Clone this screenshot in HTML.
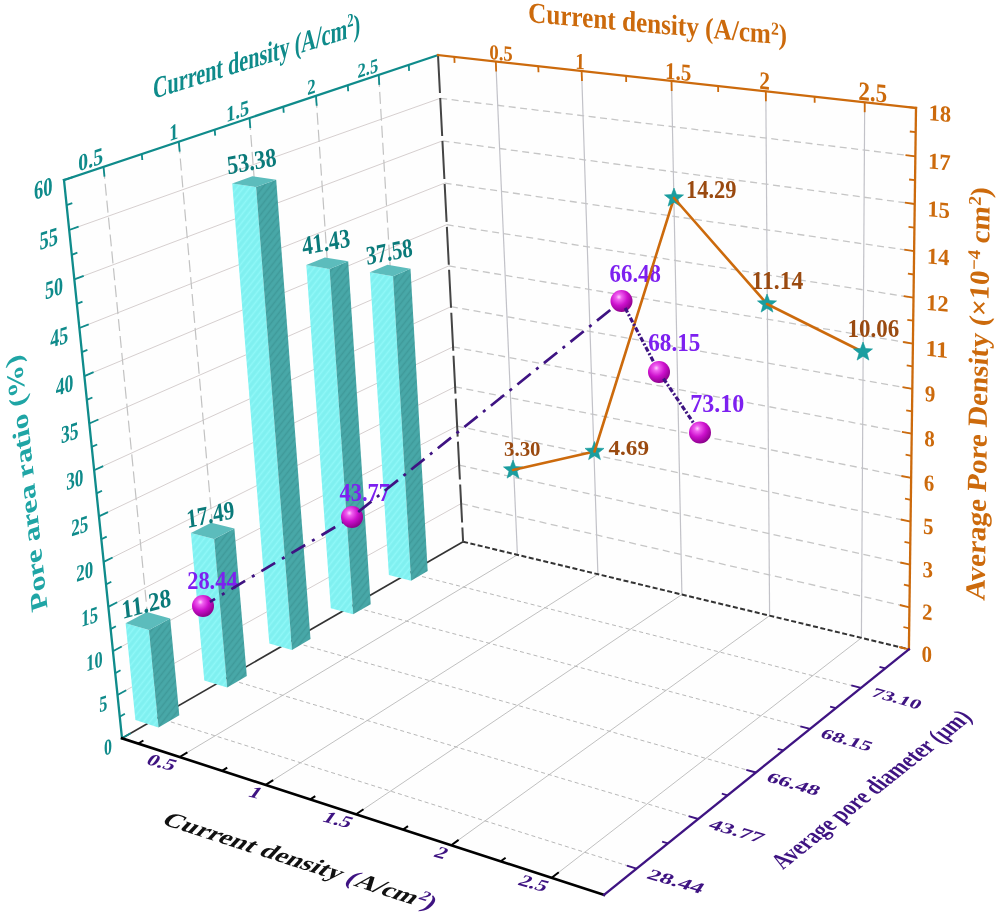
<!DOCTYPE html>
<html><head><meta charset="utf-8"><title>chart</title>
<style>html,body{margin:0;padding:0;background:#fff}svg{display:block}text{font-family:"Liberation Serif","DejaVu Serif",serif}</style>
</head><body>
<svg width="1000" height="917" viewBox="0 0 1000 917">
<rect width="1000" height="917" fill="#ffffff"/>
<polygon points="64.0,180.0 438.0,55.1 463.1,541.7 122.0,738.3" fill="#fefefe" stroke="none" stroke-width="0"/>
<polygon points="438.0,55.1 916.0,107.9 908.9,649.3 463.1,541.7" fill="#fefefe" stroke="none" stroke-width="0"/>
<polygon points="122.0,738.3 463.1,541.7 908.9,649.3 604.0,894.8" fill="#fefefe" stroke="none" stroke-width="0"/>
<line x1="117.5" y1="695.0" x2="461.1" y2="503.6" stroke="#d6cfcf" stroke-width="1" />
<line x1="112.9" y1="651.2" x2="459.1" y2="465.1" stroke="#d6cfcf" stroke-width="1" />
<line x1="108.3" y1="606.9" x2="457.1" y2="426.1" stroke="#d6cfcf" stroke-width="1" />
<line x1="103.7" y1="561.9" x2="455.1" y2="386.8" stroke="#d6cfcf" stroke-width="1" />
<line x1="98.9" y1="516.4" x2="453.0" y2="346.9" stroke="#d6cfcf" stroke-width="1" />
<line x1="94.1" y1="470.2" x2="450.9" y2="306.7" stroke="#d6cfcf" stroke-width="1" />
<line x1="89.3" y1="423.5" x2="448.8" y2="265.9" stroke="#d6cfcf" stroke-width="1" />
<line x1="84.4" y1="376.1" x2="446.7" y2="224.7" stroke="#d6cfcf" stroke-width="1" />
<line x1="79.4" y1="328.0" x2="444.6" y2="183.1" stroke="#d6cfcf" stroke-width="1" />
<line x1="74.3" y1="279.4" x2="442.4" y2="140.9" stroke="#d6cfcf" stroke-width="1" />
<line x1="69.2" y1="230.0" x2="440.2" y2="98.3" stroke="#d6cfcf" stroke-width="1" />
<line x1="103.5" y1="166.8" x2="157.6" y2="717.7" stroke="#c2c2c2" stroke-width="1.2" stroke-dasharray="12 5" />
<line x1="178.8" y1="141.6" x2="225.8" y2="678.4" stroke="#c2c2c2" stroke-width="1.2" stroke-dasharray="12 5" />
<line x1="249.5" y1="118.0" x2="290.1" y2="641.3" stroke="#c2c2c2" stroke-width="1.2" stroke-dasharray="12 5" />
<line x1="316.0" y1="95.8" x2="350.9" y2="606.3" stroke="#c2c2c2" stroke-width="1.2" stroke-dasharray="12 5" />
<line x1="378.7" y1="74.9" x2="408.5" y2="573.1" stroke="#c2c2c2" stroke-width="1.2" stroke-dasharray="12 5" />
<line x1="461.1" y1="503.6" x2="909.5" y2="607.3" stroke="#c6c6c6" stroke-width="1.3" stroke-dasharray="7 4.5" />
<line x1="459.1" y1="465.1" x2="910.1" y2="564.7" stroke="#c6c6c6" stroke-width="1.3" stroke-dasharray="7 4.5" />
<line x1="457.1" y1="426.1" x2="910.6" y2="521.6" stroke="#c6c6c6" stroke-width="1.3" stroke-dasharray="7 4.5" />
<line x1="455.1" y1="386.8" x2="911.2" y2="477.9" stroke="#c6c6c6" stroke-width="1.3" stroke-dasharray="7 4.5" />
<line x1="453.0" y1="346.9" x2="911.8" y2="433.7" stroke="#c6c6c6" stroke-width="1.3" stroke-dasharray="7 4.5" />
<line x1="450.9" y1="306.7" x2="912.4" y2="388.9" stroke="#c6c6c6" stroke-width="1.3" stroke-dasharray="7 4.5" />
<line x1="448.8" y1="265.9" x2="912.9" y2="343.6" stroke="#c6c6c6" stroke-width="1.3" stroke-dasharray="7 4.5" />
<line x1="446.7" y1="224.7" x2="913.5" y2="297.7" stroke="#c6c6c6" stroke-width="1.3" stroke-dasharray="7 4.5" />
<line x1="444.6" y1="183.1" x2="914.2" y2="251.2" stroke="#c6c6c6" stroke-width="1.3" stroke-dasharray="7 4.5" />
<line x1="442.4" y1="140.9" x2="914.8" y2="204.0" stroke="#c6c6c6" stroke-width="1.3" stroke-dasharray="7 4.5" />
<line x1="440.2" y1="98.3" x2="915.4" y2="156.3" stroke="#c6c6c6" stroke-width="1.3" stroke-dasharray="7 4.5" />
<line x1="495.8" y1="61.5" x2="517.4" y2="554.8" stroke="#c2c2c8" stroke-width="1.2" />
<line x1="581.6" y1="71.0" x2="597.9" y2="574.2" stroke="#c2c2c8" stroke-width="1.2" />
<line x1="671.5" y1="80.9" x2="681.9" y2="594.5" stroke="#c2c2c8" stroke-width="1.2" />
<line x1="765.8" y1="91.3" x2="769.6" y2="615.7" stroke="#c2c2c8" stroke-width="1.2" />
<line x1="864.7" y1="102.2" x2="861.4" y2="637.9" stroke="#c2c2c8" stroke-width="1.2" />
<line x1="179.7" y1="757.0" x2="517.4" y2="554.8" stroke="#c0c0c0" stroke-width="1" />
<line x1="265.6" y1="784.9" x2="597.9" y2="574.2" stroke="#c0c0c0" stroke-width="1" />
<line x1="356.1" y1="814.3" x2="681.9" y2="594.5" stroke="#c0c0c0" stroke-width="1" />
<line x1="451.3" y1="845.2" x2="769.6" y2="615.7" stroke="#c0c0c0" stroke-width="1" />
<line x1="551.7" y1="877.8" x2="861.4" y2="637.9" stroke="#c0c0c0" stroke-width="1" />
<line x1="157.6" y1="717.7" x2="636.5" y2="868.6" stroke="#b8b8b8" stroke-width="1" stroke-dasharray="4 3" />
<line x1="225.8" y1="678.4" x2="698.2" y2="819.0" stroke="#b8b8b8" stroke-width="1" stroke-dasharray="4 3" />
<line x1="290.1" y1="641.3" x2="755.9" y2="772.5" stroke="#b8b8b8" stroke-width="1" stroke-dasharray="4 3" />
<line x1="350.9" y1="606.3" x2="810.1" y2="728.9" stroke="#b8b8b8" stroke-width="1" stroke-dasharray="4 3" />
<line x1="408.5" y1="573.1" x2="861.0" y2="687.9" stroke="#b8b8b8" stroke-width="1" stroke-dasharray="4 3" />
<line x1="122.0" y1="738.3" x2="463.1" y2="541.7" stroke="#333" stroke-width="1.6" />
<line x1="463.1" y1="541.7" x2="908.9" y2="649.3" stroke="#333" stroke-width="2" stroke-dasharray="5 2.5" />
<line x1="438.0" y1="55.1" x2="463.1" y2="541.7" stroke="#444" stroke-width="2" stroke-dasharray="38 5" />
<line x1="64.0" y1="180.0" x2="122.0" y2="738.3" stroke="#0f8b8b" stroke-width="2.3" stroke-linecap="square"/>
<line x1="64.0" y1="180.0" x2="438.0" y2="55.1" stroke="#0f8b8b" stroke-width="2.3" stroke-linecap="square"/>
<line x1="122.0" y1="738.3" x2="130.6" y2="733.3" stroke="#0f8b8b" stroke-width="1.8" />
<line x1="119.7" y1="716.7" x2="124.9" y2="713.8" stroke="#0f8b8b" stroke-width="1.8" />
<line x1="117.5" y1="695.0" x2="126.2" y2="690.2" stroke="#0f8b8b" stroke-width="1.8" />
<line x1="115.2" y1="673.2" x2="120.5" y2="670.3" stroke="#0f8b8b" stroke-width="1.8" />
<line x1="112.9" y1="651.2" x2="121.7" y2="646.5" stroke="#0f8b8b" stroke-width="1.8" />
<line x1="110.6" y1="629.1" x2="115.9" y2="626.3" stroke="#0f8b8b" stroke-width="1.8" />
<line x1="108.3" y1="606.9" x2="117.2" y2="602.3" stroke="#0f8b8b" stroke-width="1.8" />
<line x1="106.0" y1="584.5" x2="111.3" y2="581.7" stroke="#0f8b8b" stroke-width="1.8" />
<line x1="103.7" y1="561.9" x2="112.6" y2="557.5" stroke="#0f8b8b" stroke-width="1.8" />
<line x1="101.3" y1="539.2" x2="106.7" y2="536.6" stroke="#0f8b8b" stroke-width="1.8" />
<line x1="98.9" y1="516.4" x2="108.0" y2="512.1" stroke="#0f8b8b" stroke-width="1.8" />
<line x1="96.5" y1="493.4" x2="102.0" y2="490.8" stroke="#0f8b8b" stroke-width="1.8" />
<line x1="94.1" y1="470.2" x2="103.2" y2="466.1" stroke="#0f8b8b" stroke-width="1.8" />
<line x1="91.7" y1="446.9" x2="97.2" y2="444.5" stroke="#0f8b8b" stroke-width="1.8" />
<line x1="89.3" y1="423.5" x2="98.4" y2="419.5" stroke="#0f8b8b" stroke-width="1.8" />
<line x1="86.8" y1="399.9" x2="92.4" y2="397.5" stroke="#0f8b8b" stroke-width="1.8" />
<line x1="84.4" y1="376.1" x2="93.6" y2="372.2" stroke="#0f8b8b" stroke-width="1.8" />
<line x1="81.9" y1="352.1" x2="87.4" y2="349.9" stroke="#0f8b8b" stroke-width="1.8" />
<line x1="79.4" y1="328.0" x2="88.7" y2="324.4" stroke="#0f8b8b" stroke-width="1.8" />
<line x1="76.9" y1="303.8" x2="82.5" y2="301.6" stroke="#0f8b8b" stroke-width="1.8" />
<line x1="74.3" y1="279.4" x2="83.7" y2="275.8" stroke="#0f8b8b" stroke-width="1.8" />
<line x1="71.8" y1="254.8" x2="77.4" y2="252.7" stroke="#0f8b8b" stroke-width="1.8" />
<line x1="69.2" y1="230.0" x2="78.6" y2="226.7" stroke="#0f8b8b" stroke-width="1.8" />
<line x1="66.6" y1="205.1" x2="72.3" y2="203.1" stroke="#0f8b8b" stroke-width="1.8" />
<line x1="64.0" y1="180.0" x2="73.5" y2="176.8" stroke="#0f8b8b" stroke-width="1.8" />
<line x1="103.5" y1="166.8" x2="104.5" y2="176.7" stroke="#0f8b8b" stroke-width="1.8" />
<line x1="141.8" y1="154.0" x2="142.3" y2="160.0" stroke="#0f8b8b" stroke-width="1.8" />
<line x1="178.8" y1="141.6" x2="179.7" y2="151.6" stroke="#0f8b8b" stroke-width="1.8" />
<line x1="214.7" y1="129.7" x2="215.2" y2="135.6" stroke="#0f8b8b" stroke-width="1.8" />
<line x1="249.5" y1="118.0" x2="250.3" y2="128.0" stroke="#0f8b8b" stroke-width="1.8" />
<line x1="283.3" y1="106.8" x2="283.7" y2="112.8" stroke="#0f8b8b" stroke-width="1.8" />
<line x1="316.0" y1="95.8" x2="316.7" y2="105.8" stroke="#0f8b8b" stroke-width="1.8" />
<line x1="347.8" y1="85.2" x2="348.2" y2="91.2" stroke="#0f8b8b" stroke-width="1.8" />
<line x1="378.7" y1="74.9" x2="379.3" y2="84.9" stroke="#0f8b8b" stroke-width="1.8" />
<line x1="408.8" y1="64.9" x2="409.1" y2="70.9" stroke="#0f8b8b" stroke-width="1.8" />
<line x1="438.0" y1="55.1" x2="916.0" y2="107.9" stroke="#cc6a0c" stroke-width="2.3" stroke-linecap="square"/>
<line x1="916.0" y1="107.9" x2="908.9" y2="649.3" stroke="#cc6a0c" stroke-width="2.3" stroke-linecap="square"/>
<line x1="454.3" y1="56.9" x2="454.6" y2="62.9" stroke="#cc6a0c" stroke-width="1.8" />
<line x1="495.8" y1="61.5" x2="496.2" y2="71.5" stroke="#cc6a0c" stroke-width="1.8" />
<line x1="538.2" y1="66.2" x2="538.5" y2="72.2" stroke="#cc6a0c" stroke-width="1.8" />
<line x1="581.6" y1="71.0" x2="582.0" y2="81.0" stroke="#cc6a0c" stroke-width="1.8" />
<line x1="626.1" y1="75.9" x2="626.2" y2="81.9" stroke="#cc6a0c" stroke-width="1.8" />
<line x1="671.5" y1="80.9" x2="671.7" y2="90.9" stroke="#cc6a0c" stroke-width="1.8" />
<line x1="718.1" y1="86.0" x2="718.2" y2="92.0" stroke="#cc6a0c" stroke-width="1.8" />
<line x1="765.8" y1="91.3" x2="765.9" y2="101.3" stroke="#cc6a0c" stroke-width="1.8" />
<line x1="814.6" y1="96.7" x2="814.7" y2="102.7" stroke="#cc6a0c" stroke-width="1.8" />
<line x1="864.7" y1="102.2" x2="864.7" y2="112.2" stroke="#cc6a0c" stroke-width="1.8" />
<line x1="908.9" y1="649.3" x2="899.2" y2="647.0" stroke="#cc6a0c" stroke-width="1.8" />
<line x1="909.2" y1="628.4" x2="903.4" y2="627.0" stroke="#cc6a0c" stroke-width="1.8" />
<line x1="909.5" y1="607.3" x2="899.8" y2="605.0" stroke="#cc6a0c" stroke-width="1.8" />
<line x1="909.8" y1="586.0" x2="903.9" y2="584.7" stroke="#cc6a0c" stroke-width="1.8" />
<line x1="910.1" y1="564.7" x2="900.3" y2="562.5" stroke="#cc6a0c" stroke-width="1.8" />
<line x1="910.3" y1="543.2" x2="904.5" y2="541.9" stroke="#cc6a0c" stroke-width="1.8" />
<line x1="910.6" y1="521.6" x2="900.8" y2="519.5" stroke="#cc6a0c" stroke-width="1.8" />
<line x1="910.9" y1="499.8" x2="905.0" y2="498.6" stroke="#cc6a0c" stroke-width="1.8" />
<line x1="911.2" y1="477.9" x2="901.4" y2="476.0" stroke="#cc6a0c" stroke-width="1.8" />
<line x1="911.5" y1="455.9" x2="905.6" y2="454.7" stroke="#cc6a0c" stroke-width="1.8" />
<line x1="911.8" y1="433.7" x2="901.9" y2="431.9" stroke="#cc6a0c" stroke-width="1.8" />
<line x1="912.1" y1="411.4" x2="906.2" y2="410.3" stroke="#cc6a0c" stroke-width="1.8" />
<line x1="912.4" y1="388.9" x2="902.5" y2="387.2" stroke="#cc6a0c" stroke-width="1.8" />
<line x1="912.6" y1="366.3" x2="906.7" y2="365.3" stroke="#cc6a0c" stroke-width="1.8" />
<line x1="912.9" y1="343.6" x2="903.1" y2="342.0" stroke="#cc6a0c" stroke-width="1.8" />
<line x1="913.2" y1="320.7" x2="907.3" y2="319.8" stroke="#cc6a0c" stroke-width="1.8" />
<line x1="913.5" y1="297.7" x2="903.7" y2="296.1" stroke="#cc6a0c" stroke-width="1.8" />
<line x1="913.9" y1="274.5" x2="907.9" y2="273.6" stroke="#cc6a0c" stroke-width="1.8" />
<line x1="914.2" y1="251.2" x2="904.3" y2="249.7" stroke="#cc6a0c" stroke-width="1.8" />
<line x1="914.5" y1="227.7" x2="908.5" y2="226.8" stroke="#cc6a0c" stroke-width="1.8" />
<line x1="914.8" y1="204.0" x2="904.9" y2="202.7" stroke="#cc6a0c" stroke-width="1.8" />
<line x1="915.1" y1="180.2" x2="909.1" y2="179.5" stroke="#cc6a0c" stroke-width="1.8" />
<line x1="915.4" y1="156.3" x2="905.5" y2="155.1" stroke="#cc6a0c" stroke-width="1.8" />
<line x1="915.7" y1="132.2" x2="909.8" y2="131.5" stroke="#cc6a0c" stroke-width="1.8" />
<line x1="916.0" y1="107.9" x2="906.1" y2="106.8" stroke="#cc6a0c" stroke-width="1.8" />
<line x1="122.0" y1="738.3" x2="604.0" y2="894.8" stroke="#000" stroke-width="2.6" stroke-linecap="square"/>
<line x1="138.3" y1="743.5" x2="143.4" y2="740.5" stroke="#000" stroke-width="2" />
<line x1="179.7" y1="757.0" x2="187.4" y2="752.4" stroke="#000" stroke-width="2" />
<line x1="222.1" y1="770.8" x2="227.2" y2="767.6" stroke="#000" stroke-width="2" />
<line x1="265.6" y1="784.9" x2="273.2" y2="780.1" stroke="#000" stroke-width="2" />
<line x1="310.3" y1="799.4" x2="315.3" y2="796.1" stroke="#000" stroke-width="2" />
<line x1="356.1" y1="814.3" x2="363.5" y2="809.2" stroke="#000" stroke-width="2" />
<line x1="403.1" y1="829.5" x2="408.0" y2="826.1" stroke="#000" stroke-width="2" />
<line x1="451.3" y1="845.2" x2="458.6" y2="839.9" stroke="#000" stroke-width="2" />
<line x1="500.8" y1="861.3" x2="505.6" y2="857.7" stroke="#000" stroke-width="2" />
<line x1="551.7" y1="877.8" x2="558.8" y2="872.3" stroke="#000" stroke-width="2" />
<line x1="604.0" y1="894.8" x2="908.9" y2="649.3" stroke="#3e1382" stroke-width="2.3" stroke-linecap="square"/>
<line x1="636.5" y1="868.6" x2="626.9" y2="865.6" stroke="#3e1382" stroke-width="1.9" />
<line x1="667.9" y1="843.4" x2="662.1" y2="841.6" stroke="#3e1382" stroke-width="1.9" />
<line x1="698.2" y1="819.0" x2="688.6" y2="816.1" stroke="#3e1382" stroke-width="1.9" />
<line x1="727.5" y1="795.3" x2="721.8" y2="793.7" stroke="#3e1382" stroke-width="1.9" />
<line x1="755.9" y1="772.5" x2="746.3" y2="769.8" stroke="#3e1382" stroke-width="1.9" />
<line x1="783.4" y1="750.3" x2="777.7" y2="748.8" stroke="#3e1382" stroke-width="1.9" />
<line x1="810.1" y1="728.9" x2="800.4" y2="726.3" stroke="#3e1382" stroke-width="1.9" />
<line x1="835.9" y1="708.1" x2="830.1" y2="706.6" stroke="#3e1382" stroke-width="1.9" />
<line x1="861.0" y1="687.9" x2="851.3" y2="685.4" stroke="#3e1382" stroke-width="1.9" />
<line x1="885.3" y1="668.3" x2="879.5" y2="666.9" stroke="#3e1382" stroke-width="1.9" />
<defs><pattern id="hatch" width="5" height="5" patternUnits="userSpaceOnUse" patternTransform="rotate(-52)"><rect width="5" height="5" fill="#48a8a8"/><line x1="0" y1="2.5" x2="5" y2="2.5" stroke="#3f9a9a" stroke-width="1.6"/></pattern><pattern id="hatchL" width="5" height="5" patternUnits="userSpaceOnUse" patternTransform="rotate(-52)"><rect width="5" height="5" fill="#7ff0f0"/><line x1="0" y1="2.5" x2="5" y2="2.5" stroke="#8ff8f8" stroke-width="1.6"/></pattern><radialGradient id="sph" cx="0.38" cy="0.32" r="0.7"><stop offset="0" stop-color="#ffd0ff"/><stop offset="0.18" stop-color="#f060f0"/><stop offset="0.55" stop-color="#cc10cc"/><stop offset="1" stop-color="#8a008a"/></radialGradient></defs>
<polygon points="369.9,272.3 393.0,276.3 411.1,580.7 388.9,575.1" fill="url(#hatchL)" stroke="none" stroke-width="0"/>
<polygon points="393.0,276.3 410.5,268.7 427.7,571.1 411.1,580.7" fill="url(#hatch)" stroke="none" stroke-width="0"/>
<polygon points="369.9,272.3 387.5,264.8 410.5,268.7 393.0,276.3" fill="#5cbcbc" stroke="none" stroke-width="0"/>
<polygon points="306.3,265.0 329.6,269.1 353.2,614.3 330.8,608.3" fill="url(#hatchL)" stroke="none" stroke-width="0"/>
<polygon points="329.6,269.1 348.2,261.3 370.7,604.2 353.2,614.3" fill="url(#hatch)" stroke="none" stroke-width="0"/>
<polygon points="306.3,265.0 324.9,257.4 348.2,261.3 329.6,269.1" fill="#5cbcbc" stroke="none" stroke-width="0"/>
<polygon points="232.2,183.5 256.1,187.1 292.0,649.9 269.3,643.4" fill="url(#hatchL)" stroke="none" stroke-width="0"/>
<polygon points="256.1,187.1 276.2,179.8 310.5,639.1 292.0,649.9" fill="url(#hatch)" stroke="none" stroke-width="0"/>
<polygon points="232.2,183.5 252.4,176.2 276.2,179.8 256.1,187.1" fill="#5cbcbc" stroke="none" stroke-width="0"/>
<polygon points="190.9,533.0 214.2,539.0 227.2,687.5 204.3,680.6" fill="url(#hatchL)" stroke="none" stroke-width="0"/>
<polygon points="214.2,539.0 234.4,528.6 246.8,676.1 227.2,687.5" fill="url(#hatch)" stroke="none" stroke-width="0"/>
<polygon points="190.9,533.0 211.2,522.8 234.4,528.6 214.2,539.0" fill="#5cbcbc" stroke="none" stroke-width="0"/>
<polygon points="125.6,623.2 149.0,630.0 158.5,727.4 135.4,720.0" fill="url(#hatchL)" stroke="none" stroke-width="0"/>
<polygon points="149.0,630.0 170.2,618.6 179.3,715.3 158.5,727.4" fill="url(#hatch)" stroke="none" stroke-width="0"/>
<polygon points="125.6,623.2 146.9,612.0 170.2,618.6 149.0,630.0" fill="#5cbcbc" stroke="none" stroke-width="0"/>
<text transform="matrix(1.0000 0.0000 -0.0000 1.0000 187.20 588.80)" font-size="25" fill="#7d20f0" font-weight="bold" textLength="50.4" lengthAdjust="spacingAndGlyphs" >28.44</text>
<text transform="matrix(1.0000 0.0000 -0.0000 1.0000 339.50 501.00)" font-size="25" fill="#7d20f0" font-weight="bold" textLength="50.5" lengthAdjust="spacingAndGlyphs" >43.77</text>
<text transform="matrix(1.0000 0.0000 -0.0000 1.0000 609.60 282.40)" font-size="26" fill="#7d20f0" font-weight="bold" textLength="51.3" lengthAdjust="spacingAndGlyphs" >66.48</text>
<text transform="matrix(1.0000 0.0000 -0.0000 1.0000 648.30 350.70)" font-size="26" fill="#7d20f0" font-weight="bold" textLength="52.0" lengthAdjust="spacingAndGlyphs" >68.15</text>
<text transform="matrix(1.0000 0.0000 -0.0000 1.0000 690.30 412.00)" font-size="26" fill="#7d20f0" font-weight="bold" textLength="54.0" lengthAdjust="spacingAndGlyphs" >73.10</text>
<polygon points="513.0,460.0 515.5,466.6 522.5,466.9 517.0,471.3 518.9,478.1 513.0,474.2 507.1,478.1 509.0,471.3 503.5,466.9 510.5,466.6" fill="#1a9ea0" stroke="#14989a" stroke-width="0.6"/>
<line x1="513.0" y1="470.0" x2="594.5" y2="451.5" stroke="#cc6a0c" stroke-width="2.6" stroke-linecap="round"/>
<polygon points="594.5,441.5 597.0,448.1 604.0,448.4 598.5,452.8 600.4,459.6 594.5,455.7 588.6,459.6 590.5,452.8 585.0,448.4 592.0,448.1" fill="#1a9ea0" stroke="#14989a" stroke-width="0.6"/>
<line x1="594.5" y1="451.5" x2="674.0" y2="198.0" stroke="#cc6a0c" stroke-width="2.6" stroke-linecap="round"/>
<polygon points="674.0,188.0 676.5,194.6 683.5,194.9 678.0,199.3 679.9,206.1 674.0,202.2 668.1,206.1 670.0,199.3 664.5,194.9 671.5,194.6" fill="#1a9ea0" stroke="#14989a" stroke-width="0.6"/>
<line x1="674.0" y1="198.0" x2="767.0" y2="304.0" stroke="#cc6a0c" stroke-width="2.6" stroke-linecap="round"/>
<polygon points="767.0,294.0 769.5,300.6 776.5,300.9 771.0,305.3 772.9,312.1 767.0,308.2 761.1,312.1 763.0,305.3 757.5,300.9 764.5,300.6" fill="#1a9ea0" stroke="#14989a" stroke-width="0.6"/>
<line x1="767.0" y1="304.0" x2="863.0" y2="352.0" stroke="#cc6a0c" stroke-width="2.6" stroke-linecap="round"/>
<polygon points="863.0,342.0 865.5,348.6 872.5,348.9 867.0,353.3 868.9,360.1 863.0,356.2 857.1,360.1 859.0,353.3 853.5,348.9 860.5,348.6" fill="#1a9ea0" stroke="#14989a" stroke-width="0.6"/>
<circle cx="203.0" cy="606.0" r="11" fill="url(#sph)"/>
<line x1="209.9" y1="601.9" x2="352.0" y2="517.0" stroke="#3e1382" stroke-width="2.7" stroke-dasharray="16 8 3 8" stroke-dashoffset="10"/>
<circle cx="352.0" cy="517.0" r="11" fill="url(#sph)"/>
<line x1="358.2" y1="512.0" x2="621.5" y2="301.0" stroke="#3e1382" stroke-width="2.7" stroke-dasharray="17 7 3 7" />
<circle cx="621.5" cy="301.0" r="11" fill="url(#sph)"/>
<line x1="625.2" y1="308.1" x2="659.0" y2="372.0" stroke="#3e1382" stroke-width="3.2" stroke-dasharray="5 2 2 2" />
<circle cx="659.0" cy="372.0" r="11" fill="url(#sph)"/>
<line x1="663.5" y1="378.6" x2="700.0" y2="432.5" stroke="#3e1382" stroke-width="3.2" stroke-dasharray="5 2 2 2" />
<circle cx="700.0" cy="432.5" r="11" fill="url(#sph)"/>
<text transform="matrix(0.9548 -0.2974 0.0000 1.0000 153.00 99.00)" font-size="30.5" fill="#0f8b8b" font-weight="bold" textLength="217.0" lengthAdjust="spacingAndGlyphs" >Current density (A/cm<tspan dy="-11" font-size="19">2</tspan><tspan dy="11">)</tspan></text>
<text transform="matrix(0.9483 -0.3173 0.0000 1.0000 78.35 171.52)" font-size="24.0" fill="#0f8b8b" font-weight="bold" textLength="26.0" lengthAdjust="spacingAndGlyphs" >0.5</text>
<text transform="matrix(0.9483 -0.3173 0.0000 1.0000 169.19 141.19)" font-size="23.04" fill="#0f8b8b" font-weight="bold" textLength="9.6" lengthAdjust="spacingAndGlyphs" >1</text>
<text transform="matrix(0.9483 -0.3173 0.0000 1.0000 226.31 122.14)" font-size="22.080000000000002" fill="#0f8b8b" font-weight="bold" textLength="23.9" lengthAdjust="spacingAndGlyphs" >1.5</text>
<text transform="matrix(0.9483 -0.3173 0.0000 1.0000 307.18 95.13)" font-size="21.12" fill="#0f8b8b" font-weight="bold" textLength="8.8" lengthAdjust="spacingAndGlyphs" >2</text>
<text transform="matrix(0.9483 -0.3173 0.0000 1.0000 357.53 78.34)" font-size="20.16" fill="#0f8b8b" font-weight="bold" textLength="21.8" lengthAdjust="spacingAndGlyphs" >2.5</text>
<text transform="matrix(0.9511 -0.3090 0.0000 1.0000 103.95 755.86)" font-size="22.36" fill="#0f8b8b" font-weight="bold" textLength="8.4" lengthAdjust="spacingAndGlyphs" >0</text>
<text transform="matrix(0.9511 -0.3090 0.0000 1.0000 99.23 712.58)" font-size="22.663333333333334" fill="#0f8b8b" font-weight="bold" textLength="8.5" lengthAdjust="spacingAndGlyphs" >5</text>
<text transform="matrix(0.9511 -0.3090 0.0000 1.0000 86.30 671.39)" font-size="22.966666666666665" fill="#0f8b8b" font-weight="bold" textLength="17.2" lengthAdjust="spacingAndGlyphs" >10</text>
<text transform="matrix(0.9511 -0.3090 0.0000 1.0000 81.35 627.01)" font-size="23.27" fill="#0f8b8b" font-weight="bold" textLength="17.5" lengthAdjust="spacingAndGlyphs" >15</text>
<text transform="matrix(0.9511 -0.3090 0.0000 1.0000 76.35 582.05)" font-size="23.57333333333333" fill="#0f8b8b" font-weight="bold" textLength="17.7" lengthAdjust="spacingAndGlyphs" >20</text>
<text transform="matrix(0.9511 -0.3090 0.0000 1.0000 71.28 536.50)" font-size="23.876666666666665" fill="#0f8b8b" font-weight="bold" textLength="17.9" lengthAdjust="spacingAndGlyphs" >25</text>
<text transform="matrix(0.9511 -0.3090 0.0000 1.0000 66.14 490.34)" font-size="24.18" fill="#0f8b8b" font-weight="bold" textLength="18.1" lengthAdjust="spacingAndGlyphs" >30</text>
<text transform="matrix(0.9511 -0.3090 0.0000 1.0000 60.95 443.57)" font-size="24.483333333333334" fill="#0f8b8b" font-weight="bold" textLength="18.4" lengthAdjust="spacingAndGlyphs" >35</text>
<text transform="matrix(0.9511 -0.3090 0.0000 1.0000 55.69 396.16)" font-size="24.78666666666667" fill="#0f8b8b" font-weight="bold" textLength="18.6" lengthAdjust="spacingAndGlyphs" >40</text>
<text transform="matrix(0.9511 -0.3090 0.0000 1.0000 50.36 348.11)" font-size="25.09" fill="#0f8b8b" font-weight="bold" textLength="18.8" lengthAdjust="spacingAndGlyphs" >45</text>
<text transform="matrix(0.9511 -0.3090 0.0000 1.0000 44.96 299.41)" font-size="25.393333333333334" fill="#0f8b8b" font-weight="bold" textLength="19.0" lengthAdjust="spacingAndGlyphs" >50</text>
<text transform="matrix(0.9511 -0.3090 0.0000 1.0000 39.50 250.04)" font-size="25.696666666666665" fill="#0f8b8b" font-weight="bold" textLength="19.3" lengthAdjust="spacingAndGlyphs" >55</text>
<text transform="matrix(0.9511 -0.3090 0.0000 1.0000 33.96 199.98)" font-size="26.0" fill="#0f8b8b" font-weight="bold" textLength="19.5" lengthAdjust="spacingAndGlyphs" >60</text>
<text transform="matrix(-0.1028 -0.9947 0.9485 -0.3168 47.40 608.00)" font-size="25" fill="#1fa5a5" font-weight="bold" textLength="256.0" lengthAdjust="spacingAndGlyphs" >Pore area ratio (%)</text>
<text transform="matrix(0.9833 -0.1822 0.1030 0.9947 228.00 174.60)" font-size="26.5" fill="#0a7a7a" font-weight="bold" textLength="50.0" lengthAdjust="spacingAndGlyphs" >53.38</text>
<text transform="matrix(0.9842 -0.1771 0.1030 0.9947 303.00 255.00)" font-size="26.5" fill="#0a7a7a" font-weight="bold" textLength="48.5" lengthAdjust="spacingAndGlyphs" >41.43</text>
<text transform="matrix(0.9816 -0.1908 0.1030 0.9947 367.00 265.00)" font-size="26.5" fill="#0a7a7a" font-weight="bold" textLength="47.0" lengthAdjust="spacingAndGlyphs" >37.58</text>
<text transform="matrix(0.9781 -0.2079 0.1030 0.9947 187.50 528.00)" font-size="26" fill="#0a7a7a" font-weight="bold" textLength="48.5" lengthAdjust="spacingAndGlyphs" >17.49</text>
<text transform="matrix(0.9659 -0.2588 0.1030 0.9947 122.50 619.00)" font-size="26" fill="#0a7a7a" font-weight="bold" textLength="51.0" lengthAdjust="spacingAndGlyphs" >11.28</text>
<text transform="matrix(0.9962 0.0872 -0.0130 0.9999 528.00 22.00)" font-size="29" fill="#cc6a0c" font-weight="bold" textLength="260.0" lengthAdjust="spacingAndGlyphs" >Current density (A/cm<tspan dy="-9" font-size="18">2</tspan><tspan dy="9">)</tspan></text>
<text transform="matrix(0.9954 0.0958 -0.0130 0.9999 489.30 59.02)" font-size="21.5" fill="#cc6a0c" font-weight="bold" textLength="23.5" lengthAdjust="spacingAndGlyphs" >0.5</text>
<text transform="matrix(0.9954 0.0958 -0.0130 0.9999 575.15 68.49)" font-size="22.790000000000003" fill="#cc6a0c" font-weight="bold" textLength="9.5" lengthAdjust="spacingAndGlyphs" >1</text>
<text transform="matrix(0.9954 0.0958 -0.0130 0.9999 665.05 78.41)" font-size="24.080000000000002" fill="#cc6a0c" font-weight="bold" textLength="26.3" lengthAdjust="spacingAndGlyphs" >1.5</text>
<text transform="matrix(0.9954 0.0958 -0.0130 0.9999 759.30 88.81)" font-size="25.369999999999997" fill="#cc6a0c" font-weight="bold" textLength="10.6" lengthAdjust="spacingAndGlyphs" >2</text>
<text transform="matrix(0.9954 0.0958 -0.0130 0.9999 858.21 99.72)" font-size="26.66" fill="#cc6a0c" font-weight="bold" textLength="29.1" lengthAdjust="spacingAndGlyphs" >2.5</text>
<text transform="matrix(0.9945 0.1045 -0.0130 0.9999 921.45 661.32)" font-size="23" fill="#cc6a0c" font-weight="bold" textLength="10.5" lengthAdjust="spacingAndGlyphs" >0</text>
<text transform="matrix(0.9945 0.1045 -0.0130 0.9999 922.00 619.26)" font-size="23" fill="#cc6a0c" font-weight="bold" textLength="10.5" lengthAdjust="spacingAndGlyphs" >2</text>
<text transform="matrix(0.9945 0.1045 -0.0130 0.9999 922.55 576.68)" font-size="23" fill="#cc6a0c" font-weight="bold" textLength="10.5" lengthAdjust="spacingAndGlyphs" >3</text>
<text transform="matrix(0.9945 0.1045 -0.0130 0.9999 923.12 533.57)" font-size="23" fill="#cc6a0c" font-weight="bold" textLength="10.5" lengthAdjust="spacingAndGlyphs" >5</text>
<text transform="matrix(0.9945 0.1045 -0.0130 0.9999 923.69 489.92)" font-size="23" fill="#cc6a0c" font-weight="bold" textLength="10.5" lengthAdjust="spacingAndGlyphs" >6</text>
<text transform="matrix(0.9945 0.1045 -0.0130 0.9999 924.27 445.72)" font-size="23" fill="#cc6a0c" font-weight="bold" textLength="10.5" lengthAdjust="spacingAndGlyphs" >8</text>
<text transform="matrix(0.9945 0.1045 -0.0130 0.9999 924.85 400.95)" font-size="23" fill="#cc6a0c" font-weight="bold" textLength="10.5" lengthAdjust="spacingAndGlyphs" >9</text>
<text transform="matrix(0.9945 0.1045 -0.0130 0.9999 925.45 355.61)" font-size="23" fill="#cc6a0c" font-weight="bold" textLength="22.7" lengthAdjust="spacingAndGlyphs" >11</text>
<text transform="matrix(0.9945 0.1045 -0.0130 0.9999 926.05 309.68)" font-size="23" fill="#cc6a0c" font-weight="bold" textLength="22.7" lengthAdjust="spacingAndGlyphs" >12</text>
<text transform="matrix(0.9945 0.1045 -0.0130 0.9999 926.66 263.15)" font-size="23" fill="#cc6a0c" font-weight="bold" textLength="22.7" lengthAdjust="spacingAndGlyphs" >14</text>
<text transform="matrix(0.9945 0.1045 -0.0130 0.9999 927.27 216.02)" font-size="23" fill="#cc6a0c" font-weight="bold" textLength="22.7" lengthAdjust="spacingAndGlyphs" >15</text>
<text transform="matrix(0.9945 0.1045 -0.0130 0.9999 927.90 168.27)" font-size="23" fill="#cc6a0c" font-weight="bold" textLength="22.7" lengthAdjust="spacingAndGlyphs" >17</text>
<text transform="matrix(0.9945 0.1045 -0.0130 0.9999 928.53 119.88)" font-size="23" fill="#cc6a0c" font-weight="bold" textLength="22.7" lengthAdjust="spacingAndGlyphs" >18</text>
<text transform="matrix(0.0129 -0.9999 0.9939 0.1100 984.60 601.00)" font-size="28" fill="#cc6a0c" font-weight="bold" textLength="413.0" lengthAdjust="spacingAndGlyphs" >Average Pore Density (×10<tspan dy="-9" font-size="18">−4</tspan><tspan dy="9"> cm</tspan><tspan dy="-9" font-size="18">2</tspan><tspan dy="9">)</tspan></text>
<text transform="matrix(1.0000 0.0000 -0.0000 1.0000 504.00 455.50)" font-size="21" fill="#9a4a10" font-weight="bold" textLength="36.5" lengthAdjust="spacingAndGlyphs" >3.30</text>
<text transform="matrix(1.0000 0.0000 -0.0000 1.0000 608.50 454.50)" font-size="21.5" fill="#9a4a10" font-weight="bold" textLength="40.5" lengthAdjust="spacingAndGlyphs" >4.69</text>
<text transform="matrix(1.0000 0.0000 -0.0000 1.0000 686.00 197.60)" font-size="24.5" fill="#9a4a10" font-weight="bold" textLength="50.5" lengthAdjust="spacingAndGlyphs" >14.29</text>
<text transform="matrix(1.0000 0.0000 -0.0000 1.0000 751.50 288.50)" font-size="24.5" fill="#9a4a10" font-weight="bold" textLength="51.7" lengthAdjust="spacingAndGlyphs" >11.14</text>
<text transform="matrix(1.0000 0.0000 -0.0000 1.0000 847.60 336.70)" font-size="25" fill="#9a4a10" font-weight="bold" textLength="51.6" lengthAdjust="spacingAndGlyphs" >10.06</text>
<text transform="matrix(0.9659 0.2588 -0.5879 0.8089 144.72 763.77)" font-size="18.5" fill="#3e1382" font-weight="bold" textLength="27.9" lengthAdjust="spacingAndGlyphs" >0.5</text>
<text transform="matrix(0.9659 0.2588 -0.5879 0.8089 246.83 796.00)" font-size="18.5" fill="#3e1382" font-weight="bold" textLength="11.2" lengthAdjust="spacingAndGlyphs" >1</text>
<text transform="matrix(0.9659 0.2588 -0.5879 0.8089 321.12 821.03)" font-size="18.5" fill="#3e1382" font-weight="bold" textLength="27.9" lengthAdjust="spacingAndGlyphs" >1.5</text>
<text transform="matrix(0.9659 0.2588 -0.5879 0.8089 432.49 856.27)" font-size="18.5" fill="#3e1382" font-weight="bold" textLength="11.2" lengthAdjust="spacingAndGlyphs" >2</text>
<text transform="matrix(0.9659 0.2588 -0.5879 0.8089 516.78 884.55)" font-size="18.5" fill="#3e1382" font-weight="bold" textLength="27.9" lengthAdjust="spacingAndGlyphs" >2.5</text>
<text transform="matrix(0.9521 0.3057 -0.6816 0.7317 160.00 823.50)" font-size="24" fill="#111" font-weight="bold" textLength="283.0" lengthAdjust="spacingAndGlyphs" >Current density <tspan fill="#3e1382">(</tspan>A/cm<tspan dy="-8" font-size="16" fill="#3e1382">2</tspan><tspan dy="8" fill="#3e1382">)</tspan></text>
<text transform="matrix(0.9613 0.2756 -0.5591 0.8291 645.49 878.03)" font-size="16.6" fill="#3e1382" font-weight="bold" textLength="57.0" lengthAdjust="spacingAndGlyphs" >28.44</text>
<text transform="matrix(0.9613 0.2756 -0.5591 0.8291 707.18 827.97)" font-size="16.2" fill="#3e1382" font-weight="bold" textLength="55.2" lengthAdjust="spacingAndGlyphs" >43.77</text>
<text transform="matrix(0.9613 0.2756 -0.5591 0.8291 764.93 781.09)" font-size="15.8" fill="#3e1382" font-weight="bold" textLength="53.5" lengthAdjust="spacingAndGlyphs" >66.48</text>
<text transform="matrix(0.9613 0.2756 -0.5591 0.8291 819.10 737.08)" font-size="15.4" fill="#3e1382" font-weight="bold" textLength="51.8" lengthAdjust="spacingAndGlyphs" >68.15</text>
<text transform="matrix(0.9613 0.2756 -0.5591 0.8291 870.01 695.71)" font-size="15.0" fill="#3e1382" font-weight="bold" textLength="50.0" lengthAdjust="spacingAndGlyphs" >73.10</text>
<text transform="matrix(0.7815 -0.6239 0.8211 0.5708 783.00 870.00)" font-size="26" fill="#3e1382" font-weight="bold" textLength="243.0" lengthAdjust="spacingAndGlyphs" >Average pore diameter (μm)</text>
</svg>
</body></html>
